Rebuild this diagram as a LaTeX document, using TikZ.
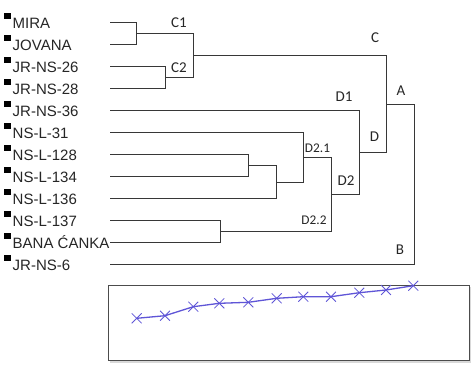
\documentclass[tikz,border=0pt]{standalone}
\usepackage{fontspec}
\setmainfont{Liberation Sans}
\newfontfamily\lblfont{Carlito}
\usetikzlibrary{calc}
\definecolor{linegray}{RGB}{55,55,55}
\definecolor{markblue}{RGB}{95,85,215}
\begin{document}
\begin{tikzpicture}[x=1pt,y=-1pt,
  tree/.style={draw=linegray,line width=1.35pt},
  leaflbl/.style={anchor=base west,inner sep=0pt,font=\fontsize{15}{15}\selectfont,text=black!85},
  sq/.style={fill=black,minimum size=6.8pt,inner sep=0pt},
  clbl/.style={inner sep=0pt,font=\lblfont\fontsize{15}{15}\selectfont,text=black!85},
  slbl/.style={inner sep=0pt,font=\lblfont\fontsize{13.3}{13.3}\selectfont,text=black!85}]
\useasboundingbox (0,0) rectangle (474,365);
\fill[white] (0,0) rectangle (474,365);

% leaves
\foreach \i/\t in {1/MIRA,2/JOVANA,3/JR-NS-26,4/JR-NS-28,5/JR-NS-36,6/NS-L-31,7/NS-L-128,8/NS-L-134,9/NS-L-136,10/NS-L-137,11/BANA ĆANKA,12/JR-NS-6}{
  \pgfmathsetmacro{\yy}{22.5+22*(\i-1)}
  \node[sq] (s\i) at (7.5,\yy-6.5) {};
  \node[leaflbl] (t\i) at (12.5,\yy+5.8) {\t};
  \coordinate (L\i) at (110,\yy);
}

% internal join points
\coordinate (c1) at (136.5,33.5);
\coordinate (c2) at (165.5,77.5);
\coordinate (cC) at (193.5,55.5);
\coordinate (d21a) at (248.5,165.5);
\coordinate (d21b) at (276.5,182.5);
\coordinate (d21) at (303.5,157.5);
\coordinate (d22) at (220.5,231.5);
\coordinate (d2) at (331.5,194.5);
\coordinate (dd) at (359.5,152.5);
\coordinate (ca) at (386.5,104.5);
\coordinate (aa) at (414.5,184.5);

% branches
\draw[tree] (L1) -| (c1) |- (L2);
\draw[tree] (L3) -| (c2) |- (L4);
\draw[tree] (c1) -| (cC) |- (c2);
\draw[tree] (L7) -| (d21a) |- (L8);
\draw[tree] (d21a) -| (d21b) |- (L9);
\draw[tree] (L6) -| (d21) |- (d21b);
\draw[tree] (L10) -| (d22) |- (L11);
\draw[tree] (d21) -| (d2) |- (d22);
\draw[tree] (L5) -| (dd) |- (d2);
\draw[tree] (cC) -| (ca) |- (dd);
\draw[tree] (ca) -| (aa) |- (L12);

% cluster labels
\node[clbl] (lC1) at (179,22.5) {C1};
\node[clbl] (lC2) at (179,67.5) {C2};
\node[clbl] (lC) at (375,38) {C};
\node[clbl] (lA) at (401,91) {A};
\node[clbl] (lD1) at (344,96.7) {D1};
\node[clbl] (lD) at (374.5,137) {D};
\node[slbl] (lD21) at (317.5,148) {D2.1};
\node[clbl] (lD2) at (346,181) {D2};
\node[slbl] (lD22) at (314,220) {D2.2};
\node[clbl] (lB) at (400,250) {B};

% bottom chart
\draw[black!15,line width=1.5pt] (110,362) -- (470.5,362) -- (470.5,287);
\draw[draw=black!70,line width=1.3pt] (108.5,285.5) rectangle (469.5,360.5);
\draw[markblue,line width=1.3pt,mark=x,mark size=7pt,mark options={line width=0.8pt}]
  plot coordinates {(136.7,318.3) (165,315.7) (193.3,306.7) (219.3,303.3) (248.3,302.3)
   (276.7,298.3) (303.3,296.7) (331,296.7) (359.3,292.7) (386,290) (413.3,285.7)};
\end{tikzpicture}
\end{document}
